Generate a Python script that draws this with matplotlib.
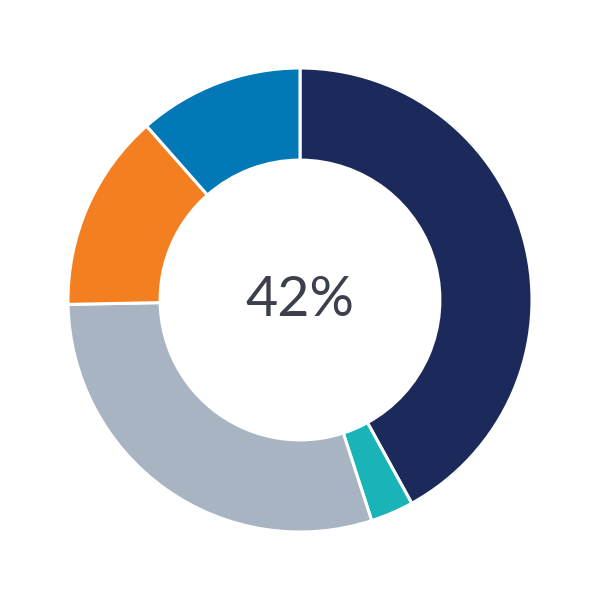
import matplotlib.pyplot as plt

labels = ["Navy", "Teal", "Gray", "Orange", "Blue"]
values = [42, 3, 29.7, 13.8, 11.5]
colors = ["#1b2a5b", "#1ab4b8", "#a9b4c2", "#f47f20", "#0278b6"]
center_text = "42%"

fig = plt.figure(figsize=(6, 6), dpi=100)
ax = fig.add_axes([0, 0, 1, 1])
ax.pie(values, colors=colors, startangle=90, counterclock=False,
       radius=1, wedgeprops=dict(width=0.397, edgecolor="white", linewidth=2.2))
ax.text(0, 0, center_text, ha="center", va="center", fontsize=40,
        color="#3b404c", family=["Lato", "DejaVu Sans"])
lim = 300 / 232
ax.set_xlim(-lim, lim)
ax.set_ylim(-lim, lim)
ax.set_aspect("equal")
ax.axis("off")
fig.savefig("out.png", dpi=100, facecolor="white")
